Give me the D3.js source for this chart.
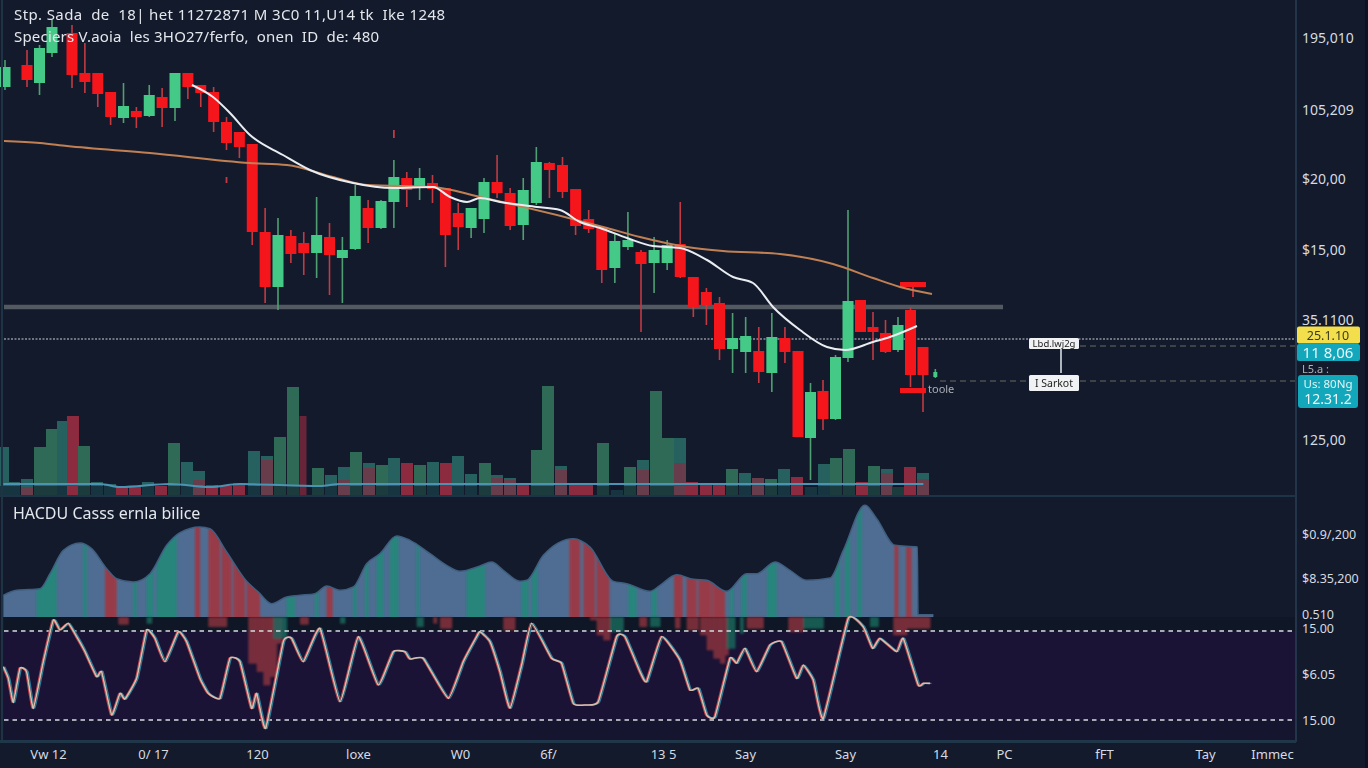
<!DOCTYPE html>
<html><head><meta charset="utf-8">
<script src="https://cdn.jsdelivr.net/npm/d3@7/dist/d3.min.js"></script>
<style>html,body{margin:0;padding:0;background:#131a2b;overflow:hidden}svg{display:block}text{font-family:"Noto Sans",sans-serif}</style>
</head><body><svg id="c" width="1368" height="768"></svg>
<script>
// candles (price units)
const candleOpen=[40.8,43,41.2,44.2,46.2,42.2,42.2,40.3,37.7,38.4,37.9,39.8,38.7,42.2,41,40.3,37.3,36.3,35.1,26.3,20.8,25.9,25.2,24.2,25.8,23.7,24.6,28.7,26.7,29.3,31.7,30.7,31.2,30.7,28.2,26.7,27.6,31.3,30.2,27,29.2,33.2,33,30.6,27.6,26.8,22.7,24.8,24.3,23.2,23.2,25.1,21.8,20.3,19.2,14.6,14.3,14.4,12.2,15.7,14.4,5.7,10.4,7.6,13.7,19.5,16.8,16.2,14.5,18.5,14.8,11.8];
const candleClose=[42.8,41.5,44.7,46.8,42,41.3,40.1,37.8,38.9,37.8,40,38.7,42.2,40.8,40.2,37.3,35.2,34.8,26.3,20.8,26,24.1,24.2,26,24,24.5,29.9,26.7,29.4,31.8,30.5,31.7,30.6,26,26.8,28.7,31.3,30.2,26.9,30.5,33.3,32.5,30.3,26.9,26.6,22.5,25.4,25.5,23.1,24.5,25,21.8,18.8,19,14.6,15.7,15.9,12.3,15.8,14.3,5.8,10.3,7.6,13.8,19.4,16.3,16.3,14.3,17,12,12,12.3];
const candleHigh=[43.5,44.5,45,47.5,47,45.2,42.2,40.3,41.2,38.8,41,40.7,42.2,42.2,41,40.8,37.8,36.3,35.1,28.7,27.7,26.5,26.3,29.8,27.2,25.8,31,29.5,29.5,33.5,32.3,32.7,32,30.7,29.2,28.7,31.7,34,30.7,31.7,34.8,33.3,33.8,30.6,28.5,26.8,26.2,28.3,24.5,25.8,25.5,29.3,21.8,20.7,19.8,18.2,17.8,16.8,18.2,16.8,14.4,11.2,11.5,14,28.5,19.5,18.3,17.5,17.8,18.8,14.8,12.6];
const candleLow=[40.5,40.8,40,43.8,40.7,40.2,38.8,37,37.2,36.7,37.8,36.8,37.4,39.6,38.8,36.3,34.5,33.7,25,19.2,18.5,23.2,22,21.7,20,19.2,24.5,25.2,26.6,26.7,28.8,29.5,29.2,22.8,24.5,25.7,26.2,29.7,26.5,25.5,29,29.7,29.7,26,26.2,21.2,21.2,24.5,16.3,20.2,22.5,21.7,17.8,17,13.5,12.2,12.2,11.2,10.3,13.2,5.8,1.5,6.5,7.5,13.3,16.3,13.5,14.2,14.3,10.8,8.3,11.7];
const xAnchorIndex=[0,1,3,4,36,60,64,70,71];
const xAnchorTime=[1.5,8.1,15.6,21.6,145.2,239.4,254.4,276.9,280.6];
// isolated wick fragments
const strayIndex=[16,29,69.2];
const strayHigh=[31.8,36.5,21];
const strayLow=[31.2,35.7,19.8];
// wide flat marks
const flagIndex=[69.2,69.2];
const flagTop=[21.3,10.7];
const flagBottom=[20.8,10.2];
// moving averages
const emaTime=[1.2,12,20.1,45,75,86.1,99.9,110.1,129.9,144,182.1,192,206.1,216.9,234,249.9,261.9,270,279.6];
const emaValue=[35.4,35.2,34.9,34.2,33.2,33,31.8,31,30.8,29.8,26.7,25.8,24.8,24.4,24.1,23.1,21.7,20.8,20.1];
const smaTime=[57.6,63.9,69,75,84.9,93,105.9,117.9,129.9,135,140.1,144,150,161.1,168,174,180,188.1,195.9,204,212.1,219.9,225.9,231.9,240,248.1,253.5,261.9,267,275.1];
const smaValue=[41,39.8,38.2,36,34,32.5,31.2,30.7,30.8,29.8,29.3,29.7,29.3,28.8,28.5,27.3,26.7,25.7,24.9,24.7,23.5,21.8,21.2,18.8,16.5,14.8,14.5,15.3,15.8,16.9];
// volume
const volTime=[0.9,4.2,8.1,12,15.6,18.9,21.9,25.2,29.1,33,36.6,40.5,44.4,48.3,52.2,56.1,59.7,63.6,67.8,71.7,76.2,80.1,84,87.9,90.9,95.4,99.3,103.2,106.8,110.7,114.6,118.2,122.1,126,129.9,133.8,137.4,141.3,145.5,149.1,153,156.9,161.1,164.4,168.3,172.5,176.1,180.9,185.1,189,192.9,196.8,200.4,204,207.6,211.8,215.7,219.6,223.5,227.4,231.3,235.2,239.1,243.3,247.2,250.8,254.7,258.6,262.2,266.1,269.4,273,276.9];
const volValue=[48,13,16,48,66,74,79,49,13,11,8,8,13,9,52,33,24,10,9,12,44,39,58,108,79,27,20,28,43,32,30,37,32,30,33,32,39,21,32,20,17,12,45,109,29,11,11,52,5,28,35,104,57,57,13,12,12,26,22,17,16,26,18,8,31,37,46,13,29,26,8,28,22];
const volKind=["t","t","t","g","g","t","r","g","t","t","r","r","t","r","g","t","t","r","r","r","t","t","g","g","r","g","t","t","g","t","g","t","r","g","t","r","t","t","g","t","t","r","g","g","t","r","r","g","t","g","t","g","g","t","r","r","r","g","t","t","g","t","r","t","t","g","g","r","g","t","g","r","t"];
const volRedPart=[0,0,8,0,0,0,0,0,0,0,0,0,0,0,0,0,15,0,0,0,0,35,0,0,0,0,0,15,0,27,0,0,0,0,0,0,0,0,0,17,15,0,0,0,25,0,0,0,0,0,25,0,0,32,0,0,0,0,0,17,0,0,0,0,0,0,0,0,0,22,0,0,16];
const volAvgTime=[1,30,36,51,63,72,96,102,140,200,277];
const volAvgValue=[11,11,8,11,8,11,9,11,11,11,11];
// MACD envelope
const macdTime=[1,5,12,15,19,24,27.5,32,35,40,45,50,54,60,63,68,74,77.5,81.5,86,90,94.5,98,102,106,110,114,119,123,129,134,138,144,147.5,151,156,158,163,172,177,184,188,195,198,203,208,212,218,224,227,232.5,237,242,249,253,259.5,263,268.5,275.2,275.4,280];
const macdValue=[6.5,8,8.5,13,20,22.2,20.5,14.5,11.5,10.5,13,21.5,25.3,27,26.5,19.5,10.7,7.5,4,6,6.5,7,9.3,8,9,16,19,24.3,23,19,15.5,13.7,15.3,16.5,14,10.7,11,18.5,23.5,21,10.7,10,7.7,9.5,12.7,11.3,11,7.7,13,13,16.5,14,11,11.7,20,33.5,29.5,21.5,21,0.7,0.7];
const greenStart=[11,25,40,44,47,86,94.5,106,109.5,113,117,125,140,144,156.5,159.5,188.5,195.5,219,222.5,230.2,250.5,253.5,257.2];
const greenEnd=[17,26,41,46,53,88.5,95.5,107,110.5,115,119.5,125.8,144,145.5,158.5,161.2,191,197,220,224,233,252,255,258.5];
const redStart=[31.5,58.5,62.5,66.5,70,74,98,170.8,175,179,202.2,206,209.5,213.7,268.3,271.8];
const redEnd=[35,60,66,69.5,73.5,78,99.8,174,178.5,182.8,204.8,209,213.5,217.5,269.5,273.5];
const negStart=[35.5,44,62.5,74.5,77,79,81,83,82,90,102,125,130,132,151,177,179,181,183,191.8,195,202.5,206,210,212,214,216,217.5,218,222,224,236.5,241,261,268,272];
const negEnd=[38.5,45.5,68,77,79,81,83,84.5,86,92.5,103.5,127,131,135.5,154.5,179,181,183,187,194,198,204,209.5,212,214,216,217.5,218.5,220.5,223,229,241,247,263.5,272,279];
const negDepth=[2.3,2,3,14,16.5,20.5,18,8,6.5,2.3,2,3,2,3.5,4,1,5.5,7,4.5,3,3,3.5,4,5.5,10,12.5,14,11.5,9.5,5,3.5,4.5,3.5,3,5.5,3.5];
const negKind=["r","g","r","r","r","r","r","r","g","r","g","g","r","r","r","r","r","r","g","r","g","r","r","r","r","r","r","r","g","g","r","r","g","g","r","r"];
// oscillator
const oscTime=[1,2.5,4,6,8,10,13,16,18,20.5,23,25.5,29,30.5,33.5,36,37.5,41,44,46.5,49.5,53.5,56,60,62.5,66,69,72,75.5,77,79.7,85,87.5,91,96,102,107.5,113.5,118,121.5,123,127,134.5,139,143,144,147,150,153,156.5,159.5,165.5,168.5,172,175.5,179.5,185,187.5,192,194,198.5,204,207,209.5,212,214.5,219,221,223.5,227,231,234.5,239,241,244,247,254.5,259,261.8,264,269,271,275.5,277,279];
const oscValue=[22.6,19.1,11.9,22.1,21.1,10.1,24.1,36.6,33.6,35.6,31.6,27.1,19.6,21.1,8.1,14.6,12.9,19.1,33.6,31.1,24.1,33.1,30.1,19.1,14.6,13.1,25.1,24.1,10.1,14.6,4.1,30.1,31.1,24.1,34.1,12.1,31.6,17.1,27.1,27.1,24.9,25.1,13.1,24.1,31.6,33.1,30.1,21.1,10.1,23.1,35.6,25.1,23.6,11.6,11.1,12.1,31.6,31.6,21.1,18.1,31.6,24.6,15.6,16.1,8.1,7.6,25.1,23.6,28.1,21.1,29.1,30.1,19.1,23.1,18.6,7.1,37.1,34.6,28.1,31.1,27.1,31.1,17.1,17.6,17.6];
const oscLevels=[33.3,6.6];
// levels
const bandPrice=18.8, dottedPrice=15.6;
const dashPrice=[14.9,11.4];
const dashFrom=[324,282];
const connectorPrice=[14.6,12.2];
// axis labels
const priceTicks=[45.7,38.5,31.6,24.5,17.5,5.5];
const priceLabels=["195,010","105,209","$20,00","$15,00","35.1100","125,00"];
const macdTicks=[24.9,11.7,0.9];
const macdLabels=["$0.9/,200","$8.35,200","0.510"];
const oscTicks=[34.0,20.4,6.6];
const oscLabels=["15.00","$6.05","15.00"];
const timeTicks=[14.4,45.9,77.1,107.4,138,164.4,198.9,223.5,253.5,282,301.2,331.2,361.5,381.6];
const timeLabels=["Vw 12","0/ 17","120","loxe","W0","6f/","13 5","Say","Say","14","PC","fFT","Tay","Immec"];
const headerLines=["Stp. Sada  de  18| het 11272871 M 3C0 11,U14 tk  Ike 1248","Speciers V.aoia  les 3HO27/ferfo,  onen  ID  de: 480"];
const headerWidths=[431,365];
const macdTitle="HACDU Casss ernla bilice";
const tagPrices=[16,14.25];
const tagLabels=["25.1.10","11 8,06"];
const tagFills=["#f3df4c","#12a7ba"];

const svg=d3.select("#c");
const defs=svg.append("defs");
defs.append("filter").attr("id","soft").attr("x","-5%").attr("y","-5%").attr("width","110%").attr("height","110%").append("feGaussianBlur").attr("stdDeviation",.4);
defs.append("filter").attr("id","soft2").attr("x","-5%").attr("y","-5%").attr("width","110%").attr("height","110%").append("feGaussianBlur").attr("stdDeviation",.9);
const t=d3.scaleLinear().domain([0,388.8]).range([0,1296]);
const xi=d3.scaleLinear().domain(xAnchorIndex).range(xAnchorTime.map(t));
const yP=d3.scaleLinear().domain([0,49.5]).range([495,0]);
const yV=d3.scaleLinear().domain([0,120]).range([495,375]);
const yM=d3.scaleLinear().domain([0,36.6]).range([617,495]);
const yO=d3.scaleLinear().domain([0,37.5]).range([742,617]);
const bg="#131a2b";
const rect=(g,x,y,w,h,f,o)=>g.append("rect").attr("x",x).attr("y",y).attr("width",w).attr("height",h).attr("fill",f).attr("opacity",o==null?1:o);

rect(svg,0,0,1368,768,bg);
rect(svg,4,yM(0),1292,yO(oscLevels[0])-yM(0),"#0f1625");
rect(svg,4,yO(oscLevels[0]),1292,yO(oscLevels[1])-yO(oscLevels[0]),"#1a1335");
rect(svg,4,yO(oscLevels[1]),1292,741-yO(oscLevels[1]),"#15152f");
rect(svg,1365,0,3,768,"#0d1322");

// volume
const vg=svg.append("g").attr("filter","url(#soft)");
const volColor={g:"#2e6b57",t:"#27605f",r:"#8c2a40"};
volTime.forEach((d,i)=>{
  const w=i===24?7:12;
  rect(vg,t(d)-w/2,yV(volValue[i]),w,yV(0)-yV(volValue[i]),volColor[volKind[i]],i===24?.7:1);
  if(volRedPart[i]) rect(vg,t(d)-6,yV(volRedPart[i]),12,yV(0)-yV(volRedPart[i]),"#8c2a40",.65);
  else if(volKind[i]!=="r") rect(vg,t(d)-6,yV(9),12,yV(0)-yV(9),"#10192a",.6);
});
vg.append("path").attr("fill","none").attr("stroke","#4c93b3").attr("stroke-width",2)
  .attr("d",d3.line().x((d,i)=>t(volAvgTime[i])).y(d=>yV(d)).curve(d3.curveMonotoneX)(volAvgValue));

// levels
svg.append("line").attr("x1",4).attr("x2",1003).attr("y1",yP(bandPrice)).attr("y2",yP(bandPrice)).attr("stroke","#6f7479").attr("stroke-width",4.5).attr("opacity",.7);
svg.append("line").attr("x1",4).attr("x2",1296).attr("y1",yP(dottedPrice)).attr("y2",yP(dottedPrice)).attr("stroke","#c9ced6").attr("stroke-width",1.2).attr("stroke-dasharray","2 1.5");
dashPrice.forEach((p,i)=>svg.append("line").attr("x1",t(dashFrom[i])).attr("x2",1296).attr("y1",yP(p)).attr("y2",yP(p)).attr("stroke","#6b6a62").attr("stroke-width",1.2).attr("stroke-dasharray","6 4"));

// candles
const cg=svg.append("g").attr("filter","url(#soft)");
const up="#45c987",down="#f5131f";
candleOpen.forEach((o,i)=>{
  const c=candleClose[i],isUp=c>=o,x=xi(i);
  cg.append("line").attr("x1",x).attr("x2",x).attr("y1",yP(candleHigh[i])).attr("y2",yP(candleLow[i])).attr("stroke",isUp?"#4f9f72":"#c23a42").attr("stroke-width",1.6);
  const w=i===71?4:11;
  rect(cg,x-w/2,yP(Math.max(o,c)),w,Math.max(2,Math.abs(yP(o)-yP(c))),isUp?up:down);
});
strayIndex.forEach((s,i)=>cg.append("line").attr("x1",xi(s)).attr("x2",xi(s)).attr("y1",yP(strayHigh[i])).attr("y2",yP(strayLow[i])).attr("stroke","#c23a42").attr("stroke-width",1.8));
flagIndex.forEach((s,i)=>rect(cg,xi(s)-13,yP(flagTop[i]),26,yP(flagBottom[i])-yP(flagTop[i]),down));

// averages
const maLine=(ts,vs,col,w)=>svg.append("path").attr("fill","none").attr("stroke",col).attr("stroke-width",w).attr("d",d3.line().x((d,i)=>t(ts[i])).y(d=>yP(d)).curve(d3.curveMonotoneX)(vs));
maLine(emaTime,emaValue,"#c08054",2);
maLine(smaTime,smaValue,"#e9edf1",2);

// MACD area with stripes clipped to it
const macdArea=d3.area().x((d,i)=>t(macdTime[i])).y0(yM(0)).y1(d=>yM(d)).curve(d3.curveMonotoneX);
svg.append("clipPath").attr("id","mc").append("path").attr("d",macdArea(macdValue));
const mg=svg.append("g");
mg.append("path").attr("d",macdArea(macdValue)).attr("fill","#4f6d92");
const sg=mg.append("g").attr("clip-path","url(#mc)").append("g").attr("filter","url(#soft2)");
greenStart.forEach((s,i)=>rect(sg,t(s),490,t(greenEnd[i])-t(s),132,"#1f8a78",.85));
redStart.forEach((s,i)=>rect(sg,t(s),490,t(redEnd[i])-t(s),132,"#9c3a45",.95));
const ng=mg.append("g").attr("filter","url(#soft2)");
negStart.forEach((s,i)=>rect(ng,t(s),yM(0),t(negEnd[i])-t(s)+.5,yM(-negDepth[i])-yM(0),negKind[i]==="r"?"#8e3340":"#1d6a5f",.8));
mg.append("path").attr("fill","none").attr("stroke","#3f5f80").attr("stroke-width",1.5)
  .attr("d",d3.line().x((d,i)=>t(macdTime[i])).y(d=>yM(d)).curve(d3.curveMonotoneX)(macdValue));

// oscillator
const oLine=d3.line().x((d,i)=>t(oscTime[i])).y(d=>yO(d)).curve(d3.curveCardinal.tension(.6));
oscLevels.forEach(l=>svg.append("line").attr("x1",4).attr("x2",1296).attr("y1",yO(l)).attr("y2",yO(l)).attr("stroke","#d8dbe2").attr("stroke-width",1.5).attr("stroke-dasharray","4.5 4"));
[["#2d7f9c",1.5,1.2],["#c8404a",-1.2,1.1],["#d2c0ae",0,1.6]].forEach(([c,lag,w])=>{
  svg.append("path").attr("fill","none").attr("stroke",c).attr("stroke-width",w).attr("transform",`translate(${lag},0)`).attr("d",oLine(oscValue));
});

// frame lines
rect(svg,1,0,2,742,"#1f3346");
rect(svg,1295,0,2,742,"#22354a");
rect(svg,0,495,1296,2,"#1f3346");
rect(svg,0,740,1296,3,"#203649");

// axes
const styleAxis=g=>{g.select(".domain").remove();g.selectAll("line").remove();g.selectAll("text").attr("fill","#d6dbe2").style("font-family",'"Noto Sans",sans-serif');};
const rightAxis=(scale,vals,labs,sizes)=>svg.append("g").attr("transform","translate(1302,0)")
  .call(d3.axisRight(scale).tickValues(vals).tickSize(0).tickPadding(0).tickFormat((d,i)=>labs[i]))
  .call(styleAxis).selectAll("text").style("font-size",(d,i)=>sizes[i]+"px");
rightAxis(yP,priceTicks,priceLabels,[14,14,14,14,14,14]);
rightAxis(yM,macdTicks,macdLabels,[12.5,12.5,12.5]);
rightAxis(yO,oscTicks,oscLabels,[12.5,13,13]);
svg.append("g").attr("transform","translate(0,750)")
  .call(d3.axisBottom(t).tickValues(timeTicks).tickSize(0).tickPadding(0).tickFormat((d,i)=>timeLabels[i]))
  .call(styleAxis).selectAll("text").style("font-size","13px");

// header text
headerLines.forEach((s,i)=>svg.append("text").attr("x",14).attr("y",20+i*22).attr("fill","#e4e7ec").attr("font-size",15).attr("textLength",headerWidths[i]).attr("lengthAdjust","spacing").style("white-space","pre").text(s));
svg.append("text").attr("x",13).attr("y",519).attr("fill","#e4e7ec").attr("font-size",16).text(macdTitle);

// price tags
tagPrices.forEach((p,i)=>{
  svg.append("rect").attr("x",1297).attr("y",yP(p)-8.5).attr("width",63).attr("height",17).attr("rx",2).attr("fill",tagFills[i]);
  svg.append("text").attr("x",1328).attr("y",yP(p)+5).attr("text-anchor","middle").attr("font-size",i?15:12.5).attr("fill",i?"#eaf6f8":"#3a3a22").text(tagLabels[i]);
});
svg.append("text").attr("x",1302).attr("y",373).attr("font-size",11).attr("fill","#aeb3bc").text("L5.a :");
svg.append("rect").attr("x",1298).attr("y",375).attr("width",60).attr("height",33).attr("rx",3).attr("fill","#12a7ba");
svg.append("text").attr("x",1328).attr("y",387.5).attr("text-anchor","middle").attr("font-size",11.5).attr("fill","#e6f4f6").text("Us: 80Ng");
svg.append("text").attr("x",1328).attr("y",404).attr("text-anchor","middle").attr("font-size",14).attr("fill","#eaf6f8").text("12.31.2");

// callouts
svg.append("line").attr("x1",1061).attr("x2",1061).attr("y1",yP(connectorPrice[0])).attr("y2",yP(connectorPrice[1])).attr("stroke","#d8dce2").attr("stroke-width",1.6);
[[1029,338,50,11,"Lbd.lwj2g",9.5,347],[1029,375,50,16,"I Sarkot",10.5,387]].forEach(([x,y,w,h,s,fs,ty])=>{
  svg.append("rect").attr("x",x).attr("y",y).attr("width",w).attr("height",h).attr("rx",1.5).attr("fill","#f1f2f4");
  svg.append("text").attr("x",x+w/2).attr("y",ty).attr("text-anchor","middle").attr("font-size",fs).attr("fill","#222").text(s);
});
svg.append("text").attr("x",928).attr("y",393).attr("font-size",11).attr("fill","#a9aeb5").text("toole");
</script></body></html>
